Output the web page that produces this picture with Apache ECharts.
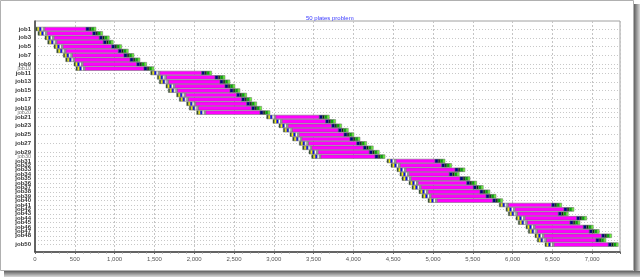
<!DOCTYPE html>
<html><head><meta charset="utf-8">
<script src="https://cdn.jsdelivr.net/npm/echarts@6/dist/echarts.min.js"></script>
<style>html,body{margin:0;padding:0;background:#fff}#c{width:644px;height:277px}</style>
</head><body><div id="c"></div>
<script>
const jobs = ['job1','job2','job3','job4','job5','job6','job7','job8','job9','job10',
'job11','job12','job13','job14','job15','job16','job17','job18','job19','job20',
'job21','job22','job23','job24','job25','job26','job27','job28','job29','job30',
'job31','job32','job33','job34','job35','job36','job37','job38','job39','job40',
'job41','job42','job43','job44','job45','job46','job47','job48','job49','job50'];
// start time of each job
const startTime = [9,38,126,160,239,273,356,386,490,515,
1454,1537,1562,1646,1675,1780,1813,1906,1939,2032,
2911,2990,3066,3120,3204,3238,3321,3363,3443,3477,
4423,4473,4548,4586,4611,4699,4737,4825,4862,4938,
5833,5918,5947,6043,6072,6169,6198,6282,6311,6408];
// duration of main (magenta) operation
const mainDur = [517,572,567,583,610,659,647,693,673,739,
525,610,647,626,660,639,669,639,669,680,
546,547,547,576,563,605,606,647,642,680,
488,522,614,504,614,610,655,651,690,698,
544,613,513,648,535,605,651,723,622,680];
// short operations before and after the main one
const headDur = [20,25,25,25,20];
const tailDur = [40,25,35,25];
const xTicks = [0,500,1000,1500,2000,2500,3000,3500,4000,4500,5000,5500,6000,6500,7000];

const headColors = ['#1f4a1f','#ffff00','#0000ff','#ffffff','#a8a8a8'];
const mainColor = '#ff00ff';
const tailColors = ['#000080','#0b2b10','#00b000','#66ff33'];

const segs = [];
jobs.forEach((j,i)=>{
  let t = startTime[i];
  headDur.forEach((d,p)=>{ segs.push([t,t+d,i,headColors[p]]); t+=d; });
  segs.push([t,t+mainDur[i],i,mainColor]); t+=mainDur[i];
  tailDur.forEach((d,p)=>{ segs.push([t,t+d,i,tailColors[p]]); t+=d; });
});

function showRow(idx){ const n=idx+1; return n>=30 || n%2===1 || n===10 || n===20; }

const chart = echarts.init(document.getElementById('c'),null,{renderer:'canvas'});
chart.setOption({
  animation:false,
  backgroundColor:'#fff',
  title:{text:'50 plates problem',left:301,top:10,textStyle:{fontSize:6,fontWeight:'normal',color:'#3a3aff',fontFamily:'Liberation Sans'}},
  graphic:[
    {type:'rect',shape:{x:0.5,y:0.5,width:633,height:270},style:{fill:null,stroke:'#b0b0b0',lineWidth:1},z:-10},
    {type:'rect',shape:{x:634,y:4,width:6,height:272},style:{fill:new echarts.graphic.LinearGradient(0,0,1,0,[{offset:0,color:'#606060'},{offset:1,color:'#d8d8d8'}])},z:-10},
    {type:'rect',shape:{x:4,y:271,width:636,height:6},style:{fill:new echarts.graphic.LinearGradient(0,0,0,1,[{offset:0,color:'#606060'},{offset:1,color:'#d8d8d8'}])},z:-10}
  ],
  grid:[
    {left:35,right:24,top:21,bottom:25,show:true,borderColor:'#a0a0a0',borderWidth:1},
    {left:35,right:24,top:29,height:215.6}
  ],
  xAxis:[
    {gridIndex:0,type:'value',min:0,max:7350,interval:500,
     axisLine:{show:true,lineStyle:{color:'#404040',width:1.5}},
     axisTick:{show:true,length:2,lineStyle:{color:'#666'}},
     minorTick:{show:true,splitNumber:5,length:1.5,lineStyle:{color:'#888'}},
     axisLabel:{fontSize:6,color:'#555',margin:4,fontFamily:'Liberation Sans',
       formatter:v=>xTicks.indexOf(v)>=0?v.toLocaleString('en-US'):''},
     splitLine:{show:true,lineStyle:{color:'#c4c4c4',type:[2,2],width:1}}},
    {gridIndex:1,type:'value',min:0,max:7350,show:false}
  ],
  yAxis:[
    {gridIndex:0,type:'value',min:0,max:1,axisLine:{show:true,lineStyle:{color:'#404040',width:1.5}},
     axisTick:{show:false},axisLabel:{show:false},splitLine:{show:false}},
    {gridIndex:1,type:'category',data:jobs,inverse:true,boundaryGap:false,
     axisLine:{show:false},axisTick:{show:false},
     axisLabel:{interval:(i)=>showRow(i),showMinLabel:true,showMaxLabel:true,fontSize:6,margin:4,fontFamily:'Liberation Sans',hideOverlap:false,
       formatter:(v,i)=>{const n=i+1; return (n%2===1||n>30)?'{a|'+v+'}':'{b|'+v+'}';},
       rich:{a:{fontSize:6,fontWeight:'bold',color:'#333'},b:{fontSize:5.5,color:'#777'}}},
     splitLine:{show:true,interval:(i)=>showRow(i),lineStyle:{color:'#c8c8c8',type:[1,2],width:1}}}
  ],
  series:[{
    type:'custom',xAxisIndex:1,yAxisIndex:1,
    data:segs,
    encode:{x:[0,1],y:2},
    renderItem:(params,api)=>{
      const s=api.coord([api.value(0),api.value(2)]);
      const e=api.coord([api.value(1),api.value(2)]);
      const nxt=api.coord([api.value(0),api.value(2)+1]);
      const h=Math.abs(nxt[1]-s[1])*0.85;
      const col=segs[params.dataIndex][3];
      return {type:'rect',shape:{x:s[0],y:s[1]-h/2,width:e[0]-s[0],height:h},
        style:{fill:col,stroke:'#6a6a6a',lineWidth:0.5}};
    }
  }]
});
</script></body></html>
